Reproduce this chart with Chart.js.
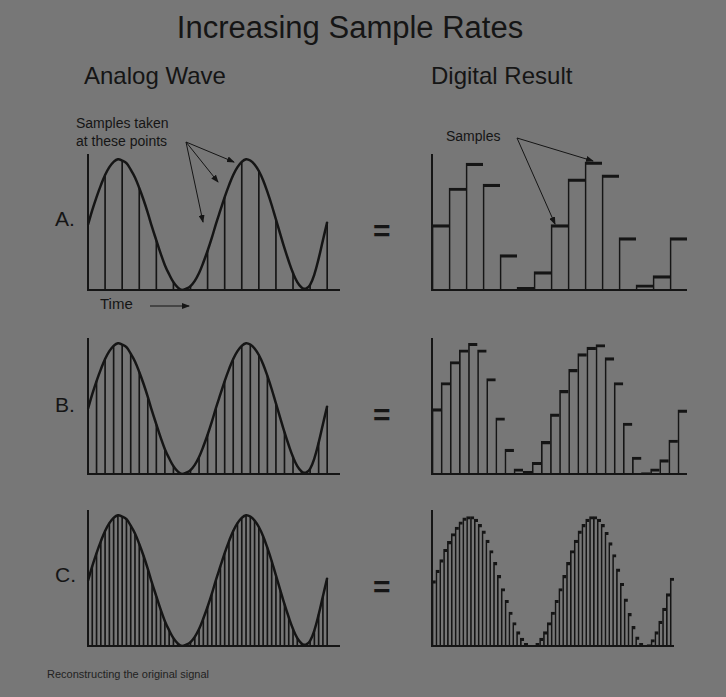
<!DOCTYPE html>
<html><head><meta charset="utf-8">
<script src="https://cdn.jsdelivr.net/npm/chart.js@4"></script>
<style>
body{margin:0;background:#777;font-family:"Liberation Sans",Arial,sans-serif;color:#151515}
#wrap{position:relative;width:726px;height:697px;background:#777;overflow:hidden}
.t{position:absolute;white-space:nowrap}
.c{position:absolute}
</style></head><body>
<div id="wrap">
  <div class="t" style="left:0;width:700px;text-align:center;top:10px;font-size:31px">Increasing Sample Rates</div>
  <div class="t" style="left:84px;top:62px;font-size:24px">Analog Wave</div>
  <div class="t" style="left:431px;top:62px;font-size:24px">Digital Result</div>
  <div class="t" style="left:76px;top:114px;font-size:14px;line-height:18px">Samples taken<br>at these points</div>
  <div class="t" style="left:446px;top:128px;font-size:14px">Samples</div>
  <div class="t" style="left:100px;top:295px;font-size:15px">Time</div>
  <div class="t" style="left:55px;top:207px;font-size:21px">A.</div>
  <div class="t" style="left:55px;top:393px;font-size:21px">B.</div>
  <div class="t" style="left:55px;top:563px;font-size:21px">C.</div>
  <div class="t" style="left:373px;top:214px;font-size:30px;font-weight:bold">=</div>
  <div class="t" style="left:373px;top:398px;font-size:30px;font-weight:bold">=</div>
  <div class="t" style="left:373px;top:570px;font-size:30px;font-weight:bold">=</div>
  <div class="t" style="left:47px;top:668px;font-size:11px;color:#222">Reconstructing the original signal</div>
  <svg class="c" style="left:0;top:0" width="726" height="697">
    <defs><marker id="ah" markerWidth="8" markerHeight="6" refX="7" refY="3" orient="auto"><path d="M0,0 L8,3 L0,6 z" fill="#151515"/></marker></defs>
    <g stroke="#151515" stroke-width="1" fill="none">
      <line x1="186" y1="142" x2="234" y2="162" marker-end="url(#ah)"/>
      <line x1="186" y1="142" x2="218" y2="182" marker-end="url(#ah)"/>
      <line x1="186" y1="142" x2="203" y2="222" marker-end="url(#ah)"/>
      <line x1="150" y1="306" x2="189" y2="306" marker-end="url(#ah)"/>
      <line x1="517" y1="138" x2="593" y2="161" marker-end="url(#ah)"/>
      <line x1="517" y1="138" x2="555" y2="224" marker-end="url(#ah)"/>
    </g>
  </svg>
  <canvas id="aA" class="c" style="left:80px;top:154px" width="260" height="144"></canvas>
  <canvas id="aB" class="c" style="left:80px;top:338px" width="260" height="144"></canvas>
  <canvas id="aC" class="c" style="left:80px;top:510px" width="260" height="144"></canvas>
  <canvas id="dA" class="c" style="left:424px;top:154px" width="263" height="144"></canvas>
  <canvas id="dB" class="c" style="left:424px;top:338px" width="263" height="144"></canvas>
  <canvas id="dC" class="c" style="left:424px;top:510px" width="250" height="144"></canvas>
</div>
<script>
// analog wave (0 = baseline, 1 = top)
let analog = [.50,.61,.71,.80,.88,.94,.98,1.0,.99,.97,.92,.86,.78,.69,.59,.48,.38,.28,.19,.12,.06,.02,.00,.01,.03,.07,.13,.21,.30,.40,.51,.61,.71,.80,.88,.94,.98,1.0,.99,.96,.91,.84,.75,.65,.54,.43,.32,.22,.13,.06,.02,.01,.04,.12,.24,.38,.52];
let spacing = {A: 4, B: 2, C: 1};

// digital step heights
let digitalA = [.50,.78,.97,.81,.27,.02,.14,.50,.85,.98,.88,.40,.04,.11,.40];
let digitalB = [.50,.70,.86,.95,1.0,.95,.73,.43,.19,.04,.02,.09,.25,.46,.64,.80,.92,.97,.99,.89,.70,.39,.13,.01,.04,.11,.26,.49];
let digitalC = [.50,.58,.66,.74,.80,.86,.91,.95,.98,.99,.99,.97,.93,.88,.81,.73,.64,.54,.44,.35,.26,.18,.11,.06,.02,.00,.00,.02,.06,.11,.18,.26,.35,.44,.54,.64,.73,.81,.88,.93,.97,.99,.99,.97,.93,.87,.79,.70,.59,.48,.36,.25,.15,.07,.02,.00,.01,.05,.11,.19,.29,.40,.52];

const ink = "#151515";

function axes(offset) {
    return {
        x: {offset: offset, grid: {display: false}, ticks: {display: false}, border: {color: ink, width: 2}},
        y: {min: 0, max: 1.04, grid: {display: false}, ticks: {display: false}, border: {color: ink, width: 2}}
    };
}

function analogChart(id, step) {
    let labels = [];
    let samples = [];
    for (let i = 0; i < analog.length + 3; i++) {
        labels.push(i);
        samples.push(i < analog.length && i % step == 0 ? analog[i] : null);
    }
    new Chart(document.getElementById(id), {
        data: {
            labels: labels,
            datasets: [
                {type: 'line', data: analog, borderColor: ink, borderWidth: 2.5, pointRadius: 0, tension: 0.4},
                {type: 'bar', data: samples, backgroundColor: ink, barThickness: 1}
            ]
        },
        options: {
            responsive: false, animation: false,
            plugins: {legend: {display: false}, tooltip: {enabled: false}},
            scales: axes(false)
        }
    });
}

function digitalChart(id, values) {
    new Chart(document.getElementById(id), {
        type: 'bar',
        data: {
            labels: values.map((v, i) => i),
            datasets: [{
                data: values,
                backgroundColor: 'rgba(0,0,0,0)',
                borderColor: ink,
                borderWidth: {top: 2.5, left: 1, right: 0, bottom: 0},
                borderSkipped: false,
                categoryPercentage: 1, barPercentage: 1
            }]
        },
        options: {
            responsive: false, animation: false,
            plugins: {legend: {display: false}, tooltip: {enabled: false}},
            scales: axes(true)
        }
    });
}

analogChart("aA", spacing.A);
analogChart("aB", spacing.B);
analogChart("aC", spacing.C);
digitalChart("dA", digitalA);
digitalChart("dB", digitalB);
digitalChart("dC", digitalC);
</script>
</body></html>
